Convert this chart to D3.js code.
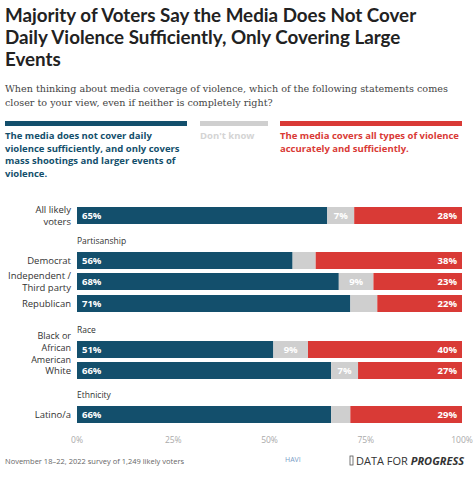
<!DOCTYPE html><html><head><meta charset="utf-8"><script src="https://cdn.jsdelivr.net/npm/d3@7"></script>
<style>body{margin:0;background:#fff;font-family:"Open Sans",sans-serif}</style></head><body><svg id="c" width="474" height="483"></svg>
<script>
const categories=["All likely voters","Democrat","Independent / Third party","Republican","Black or African American","White","Latino/a"];
const groups=[null,"Partisanship",null,null,"Race",null,"Ethnicity"];
const notCover=[65,56,68,71,51,66,66];
const dontKnow=[7,6,9,7,9,7,5];
const covers=[28,38,23,22,40,27,29];
const dkLabel=[true,false,true,false,true,true,false];
const ticks=[0,25,50,75,100];
const barY=[207,252,273,295,341,362,406];
const labels=[["All likely","voters"],["Democrat"],["Independent /","Third party"],["Republican"],["Black or","African","American"],["White"],["Latino/a"]];
const C={b:"#134f6c",g:"#cfcfcf",r:"#d93a36"};
const svg=d3.select("#c");
const x=d3.scaleLinear().domain([0,100]).range([77,462]);
const T=(xx,y,t,o={})=>svg.append("text").attr("x",xx).attr("y",y).text(t).attr("font-size",o.s||9).attr("fill",o.f||"#333").attr("font-weight",o.w||400).attr("text-anchor",o.a||"start");
["Majority of Voters Say the Media Does Not Cover","Daily Violence Sufficiently, Only Covering Large","Events"].forEach((t,i)=>T(5,22+i*22,t,{s:18.8,w:700,f:"#222"}).attr("font-family","Lato, sans-serif"));
["When thinking about media coverage of violence, which of the following statements comes","closer to your view, even if neither is completely right?"].forEach((t,i)=>T(5,92+i*14,t,{s:9.6,f:"#444"}).attr("font-family","DejaVu Serif, serif"));
svg.append("rect").attr("x",5).attr("y",121).attr("width",182).attr("height",5).attr("fill",C.b);
svg.append("rect").attr("x",200).attr("y",121).attr("width",68).attr("height",5).attr("fill",C.g);
svg.append("rect").attr("x",280).attr("y",121).attr("width",182).attr("height",5).attr("fill",C.r);
["The media does not cover daily","violence sufficiently, and only covers","mass shootings and larger events of","violence."].forEach((t,i)=>T(5,139+i*12.5,t,{s:9.5,w:700,f:C.b}));
T(200,139,"Don't know",{s:9.5,w:700,f:"#d4d4d4"});
["The media covers all types of violence","accurately and sufficiently."].forEach((t,i)=>T(280,139+i*12.5,t,{s:9.5,w:700,f:C.r}));
const h=17;
categories.forEach((c,i)=>{
  const y=barY[i];
  if(groups[i]) T(x(0),y-8,groups[i],{s:8.5,f:"#333"});
  const a=notCover[i],b=dontKnow[i],r=covers[i];
  svg.append("rect").attr("x",x(0)).attr("y",y).attr("width",x(a)-x(0)).attr("height",h).attr("fill",C.b);
  svg.append("rect").attr("x",x(a)).attr("y",y).attr("width",x(a+b)-x(a)).attr("height",h).attr("fill",C.g);
  svg.append("rect").attr("x",x(a+b)).attr("y",y).attr("width",x(100)-x(a+b)).attr("height",h).attr("fill",C.r);
  T(x(0)+5,y+12,a+"%",{s:9.5,w:700,f:"#fff"});
  if(dkLabel[i]) T(x(a+b/2),y+12,b+"%",{s:9.5,w:700,f:"#fff",a:"middle"});
  T(x(100)-5,y+12,r+"%",{s:9.5,w:700,f:"#fff",a:"end"});
  const L=labels[i],big=L.length>2,fs=big?9:9.5,lh=big?12:11.5,y0=y+h/2+3.5-(L.length-1)*lh/2-(big?2:0);
  L.forEach((t,k)=>T(71,y0+k*lh,t,{s:fs,f:"#333",a:"end"}));
});
ticks.forEach(t=>T(x(t),443,t+"%",{s:8.5,f:"#aaa",a:"middle"}));
T(5,464,"November 18–22, 2022 survey of 1,249 likely voters",{s:7.5,f:"#666"});
svg.append("rect").attr("x",350).attr("y",456).attr("width",3).attr("height",9).attr("fill","none").attr("stroke","#555").attr("stroke-width",0.8);
T(356,465,"DATA FOR ",{s:11,f:"#333"}).append("tspan").attr("font-weight",700).attr("font-style","italic").text("PROGRESS");
T(285,462,"HAVI",{s:7,f:"#7a9cc6"});
</script></body></html>
